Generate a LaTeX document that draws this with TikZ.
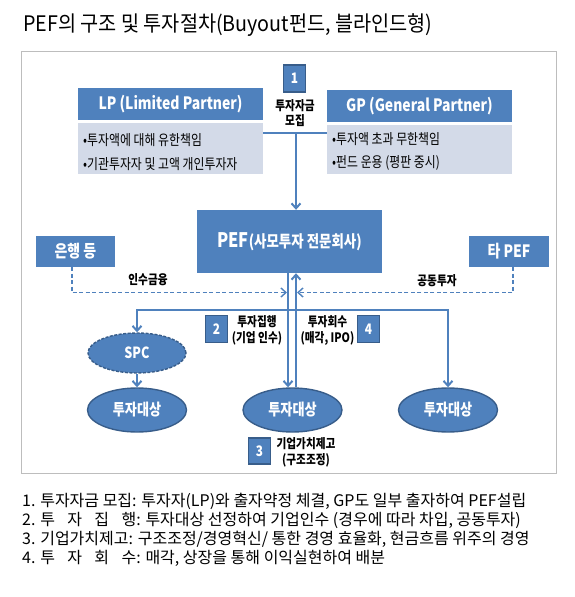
\documentclass[tikz,border=0pt]{standalone}
\usepackage{fontspec}
\setmainfont{Noto Sans CJK KR}
\newfontfamily\diagfont[FakeStretch=0.82]{Noto Sans CJK KR}
\newfontfamily\titlefont[FakeStretch=0.92]{Noto Sans CJK KR}
\usetikzlibrary{arrows.meta, calc, positioning, shapes.geometric}
\definecolor{pefblue}{HTML}{4F81BD}
\definecolor{pefdark}{HTML}{385D8A}
\definecolor{pefpale}{HTML}{D3DAE8}
\definecolor{framegray}{HTML}{BDBDBD}

\begin{document}
\begin{tikzpicture}[x=1pt, y=-1pt,% one unit = one pixel of the page
         > = {Straight Barb[length=5pt, width=9pt]},
head/.style = {fill=pefblue, text=white, inner sep=0pt,
              minimum width=185pt, minimum height=32pt,
              font=\diagfont\bfseries\fontsize{17}{19}\selectfont},
body/.style = {fill=pefpale, inner sep=0pt,
              minimum width=185pt, minimum height=50pt},
list/.style = {align=left, inner sep=0pt,
              font=\diagfont\fontsize{14.5}{23.5}\selectfont},
blue box/.style = {fill=pefblue, text=white, inner sep=0pt,
              font=\diagfont\bfseries\fontsize{17}{19}\selectfont},
target/.style = {ellipse, fill=pefblue, draw=pefdark, line width=1.4pt,
              minimum width=99pt, minimum height=44pt, inner sep=0pt,
              text=white, font=\diagfont\bfseries\fontsize{16}{18}\selectfont},
num/.style = {fill=pefblue, draw=pefdark, line width=1.2pt, text=white,
              minimum width=22pt, minimum height=27pt, inner sep=0pt,
              font=\diagfont\bfseries\fontsize{14.5}{16}\selectfont},
note/.style = {align=center, inner sep=0pt,
              font=\diagfont\bfseries\fontsize{13}{16}\selectfont},
legend/.style = {anchor=base west, inner sep=0pt,
              font=\fontsize{16}{19}\selectfont},
link/.style = {draw=pefblue, line width=2pt},
dash link/.style = {draw=pefblue, line width=1.4pt,
              dash pattern=on 4pt off 2.5pt}
                        ]
	\useasboundingbox (0,0) rectangle (575,597);
	% title and frame
	\node[anchor=base west, inner sep=0pt,
	      font=\titlefont\fontsize{21.4}{24}\selectfont] (title) at (23,31.5)
	      {PEF의 구조 및 투자절차(Buyout펀드, 블라인드형)};
	\draw[framegray, line width=1pt] (21,51) rectangle (556,473);

	% partners
	\node[head] (lpHead) at (170.5,104) {LP (Limited Partner)};
	\node[body, below=3pt of lpHead, minimum height=51pt] (lpBody) {};
	\node[list, anchor=west] (lpList) at (83,152)
	      {•투자액에 대해 유한책임\\•기관투자자 및 고액 개인투자자};
	\node[head] (gpHead) at (419.5,106) {GP (General Partner)};
	\node[body, below=3pt of gpHead, minimum height=49pt] (gpBody) {};
	\node[list, anchor=west] (gpList) at (332,151.5)
	      {•투자액 초과 무한책임\\•펀드 운용 (평판 중시)};
	\node[num] (num1) at (294.5,78.5) {1};
	\node[note, font=\diagfont\bfseries\fontsize{13}{15}\selectfont] (recruit) at (295,113.5) {투자자금\\모집};

	% fund and lenders
	\node[blue box, minimum width=185pt, minimum height=63pt] (pef) at (289.5,241.5)
	      {\fontsize{20}{22}\selectfont PEF\fontsize{16.4}{18}\selectfont(사모투자 전문회사)};
	\node[blue box, minimum width=79pt, minimum height=31pt] (bank) at (75.5,251.5) {은행 등};
	\node[blue box, minimum width=80pt, minimum height=31pt] (other) at (509,251.5) {타 PEF};
	\node[note] (finLabel) at (148,280) {인수금융};
	\node[note] (jointLabel) at (437,281) {공동투자};

	% targets
	\node[target, dashed, dash pattern=on 3pt off 1.5pt, minimum width=98pt,
	      minimum height=40pt, font=\diagfont\bfseries\fontsize{15.4}{17}\selectfont] (spc) at (137,353) {SPC};
	\node[target] (tgtL) at (137,410) {투자대상};
	\node[target] (tgtM) at (292.5,410) {투자대상};
	\node[target] (tgtR) at (448,410) {투자대상};

	% steps 2, 3, 4
	\node[num] (num2) at (216.5,329) {2};
	\node[note] (execute) at (257,330) {투자집행\\(기업 인수)};
	\node[note] (collect) at (327.5,330) {투자회수\\(매각, IPO)};
	\node[num] (num4) at (368.5,329) {4};
	\node[num, minimum height=26pt] (num3) at (259.5,451) {3};
	\node[note] (value) at (306,452) {기업가치제고\\(구조조정)};

	% connectors
	\coordinate (join)  at (296,132.5);
	\coordinate (xDown) at (288,0);
	\coordinate (xUp)   at (296,0);
	\coordinate (split) at (288,310);
	\coordinate (finL)  at (287,292.5);
	\coordinate (finR)  at (297,292.5);
	\draw[link] (lpBody.east |- join) -- (gpBody.west |- join);
	\draw[link,->] (join) -- (join |- pef.north);
	\draw[link,->] (pef.south -| xDown) -- (tgtM.north -| xDown);
	\draw[link,->] (tgtM.north -| xUp) -- (pef.south -| xUp);
	\draw[link,->] (split) -| (spc.north);
	\draw[link,->] (split) -| (tgtR.north);
	\draw[link,->] (spc) -- (tgtL);
	\draw[dash link,->] ([xshift=-3.5pt]bank.south) |- (finL);
	\draw[dash link,->] ([xshift=4pt]other.south) |- (finR);

	% notes below the frame
	\node[legend] (note1) at (22,506)
	      {1. 투자자금 모집: 투자자(LP)와 출자약정 체결, GP도 일부 출자하여 PEF설립};
	\node[legend] (note2) at (22,525)
	      {2. \makebox[6em][s]{투\hfill 자\hfill 집\hfill 행}: 투자대상 선정하여 기업인수 (경우에 따라 차입, 공동투자)};
	\node[legend] (note3) at (22,544)
	      {3. 기업가치제고: 구조조정/경영혁신/ 통한 경영 효율화, 현금흐름 위주의 경영};
	\node[legend] (note4) at (22,563)
	      {4. \makebox[6em][s]{투\hfill 자\hfill 회\hfill 수}: 매각, 상장을 통해 이익실현하여 배분};
\end{tikzpicture}
\end{document}
